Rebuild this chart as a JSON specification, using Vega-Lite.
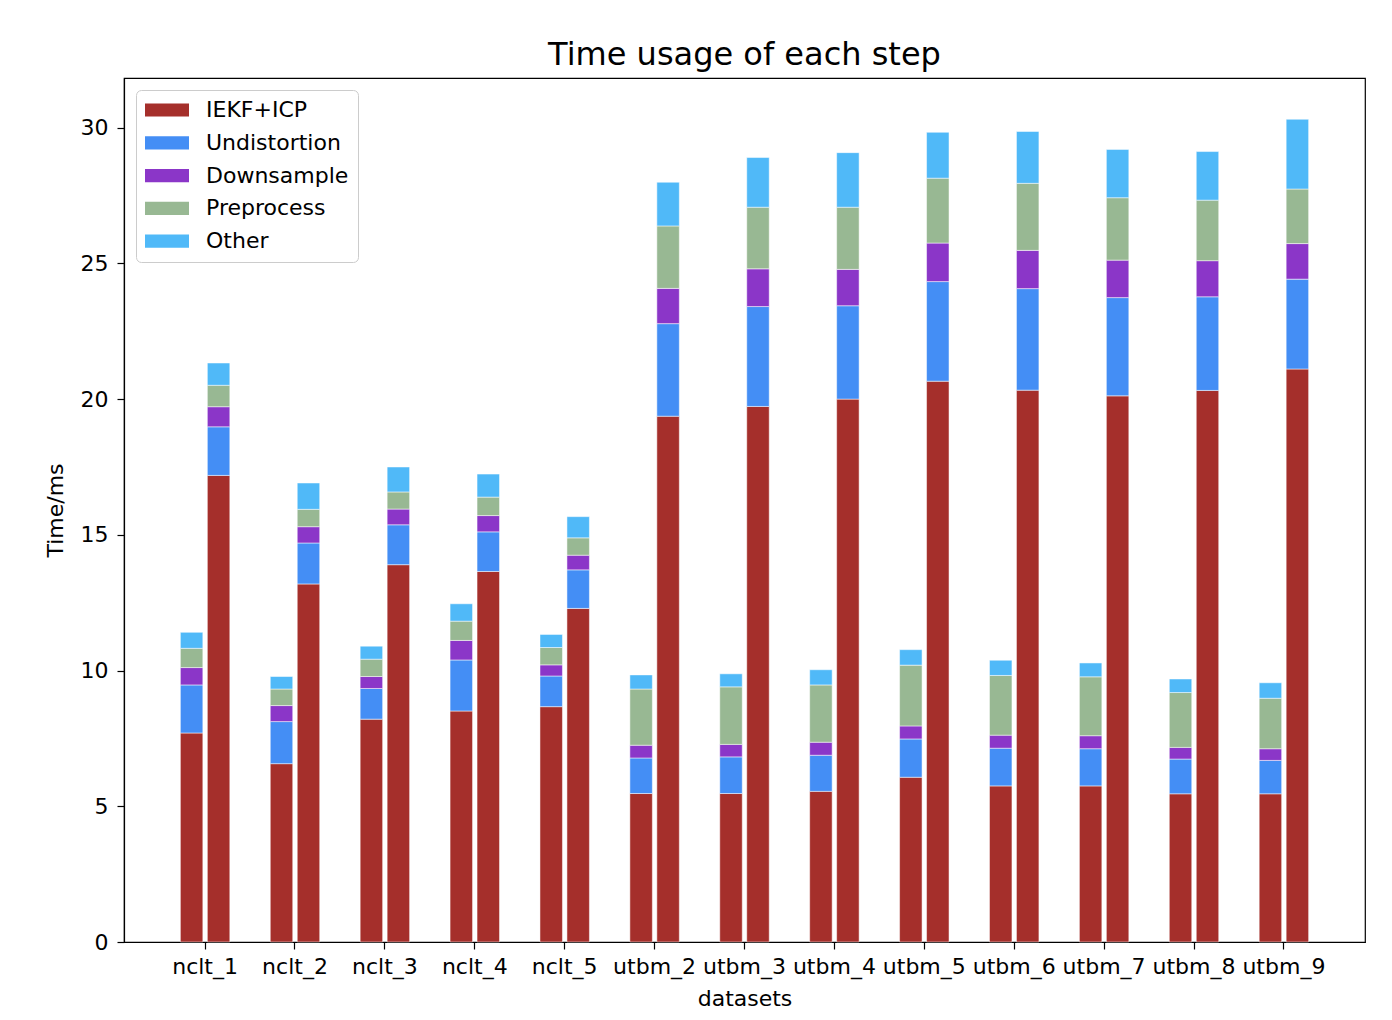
{
  "$schema": "https://vega.github.io/schema/vega-lite/v6.json",
  "width": 1241,
  "height": 864,
  "autosize": {"type": "none"},
  "padding": {"left": 124, "top": 78, "right": 27, "bottom": 78},
  "background": "white",
  "config": {
    "font": "DejaVu Sans",
    "view": {"stroke": "black", "strokeWidth": 1.2},
    "axis": {"domainColor": "black", "domainWidth": 1.2, "tickColor": "black", "tickWidth": 1.2, "tickSize": 7, "labelFontSize": 22, "labelColor": "black", "titleFontSize": 22, "titleFontWeight": "normal", "titleColor": "black", "grid": false}
  },
  "title": {"text": "Time usage of each step", "fontSize": 32, "fontWeight": "normal", "color": "black", "anchor": "middle", "offset": -19, "baseline": "alphabetic"},
  "data": {
    "values": [
      {"dataset": "nclt_1", "bar": "a", "step": "IEKF+ICP", "k": 1, "value": 7.70},
      {"dataset": "nclt_1", "bar": "a", "step": "Undistortion", "k": 2, "value": 1.77},
      {"dataset": "nclt_1", "bar": "a", "step": "Downsample", "k": 3, "value": 0.64},
      {"dataset": "nclt_1", "bar": "a", "step": "Preprocess", "k": 4, "value": 0.71},
      {"dataset": "nclt_1", "bar": "a", "step": "Other", "k": 5, "value": 0.59},
      {"dataset": "nclt_1", "bar": "b", "step": "IEKF+ICP", "k": 1, "value": 17.19},
      {"dataset": "nclt_1", "bar": "b", "step": "Undistortion", "k": 2, "value": 1.79},
      {"dataset": "nclt_1", "bar": "b", "step": "Downsample", "k": 3, "value": 0.74},
      {"dataset": "nclt_1", "bar": "b", "step": "Preprocess", "k": 4, "value": 0.79},
      {"dataset": "nclt_1", "bar": "b", "step": "Other", "k": 5, "value": 0.82},
      {"dataset": "nclt_2", "bar": "a", "step": "IEKF+ICP", "k": 1, "value": 6.57},
      {"dataset": "nclt_2", "bar": "a", "step": "Undistortion", "k": 2, "value": 1.55},
      {"dataset": "nclt_2", "bar": "a", "step": "Downsample", "k": 3, "value": 0.59},
      {"dataset": "nclt_2", "bar": "a", "step": "Preprocess", "k": 4, "value": 0.61},
      {"dataset": "nclt_2", "bar": "a", "step": "Other", "k": 5, "value": 0.46},
      {"dataset": "nclt_2", "bar": "b", "step": "IEKF+ICP", "k": 1, "value": 13.19},
      {"dataset": "nclt_2", "bar": "b", "step": "Undistortion", "k": 2, "value": 1.51},
      {"dataset": "nclt_2", "bar": "b", "step": "Downsample", "k": 3, "value": 0.60},
      {"dataset": "nclt_2", "bar": "b", "step": "Preprocess", "k": 4, "value": 0.64},
      {"dataset": "nclt_2", "bar": "b", "step": "Other", "k": 5, "value": 0.97},
      {"dataset": "nclt_3", "bar": "a", "step": "IEKF+ICP", "k": 1, "value": 8.21},
      {"dataset": "nclt_3", "bar": "a", "step": "Undistortion", "k": 2, "value": 1.13},
      {"dataset": "nclt_3", "bar": "a", "step": "Downsample", "k": 3, "value": 0.44},
      {"dataset": "nclt_3", "bar": "a", "step": "Preprocess", "k": 4, "value": 0.64},
      {"dataset": "nclt_3", "bar": "a", "step": "Other", "k": 5, "value": 0.48},
      {"dataset": "nclt_3", "bar": "b", "step": "IEKF+ICP", "k": 1, "value": 13.90},
      {"dataset": "nclt_3", "bar": "b", "step": "Undistortion", "k": 2, "value": 1.47},
      {"dataset": "nclt_3", "bar": "b", "step": "Downsample", "k": 3, "value": 0.58},
      {"dataset": "nclt_3", "bar": "b", "step": "Preprocess", "k": 4, "value": 0.63},
      {"dataset": "nclt_3", "bar": "b", "step": "Other", "k": 5, "value": 0.92},
      {"dataset": "nclt_4", "bar": "a", "step": "IEKF+ICP", "k": 1, "value": 8.51},
      {"dataset": "nclt_4", "bar": "a", "step": "Undistortion", "k": 2, "value": 1.88},
      {"dataset": "nclt_4", "bar": "a", "step": "Downsample", "k": 3, "value": 0.72},
      {"dataset": "nclt_4", "bar": "a", "step": "Preprocess", "k": 4, "value": 0.71},
      {"dataset": "nclt_4", "bar": "a", "step": "Other", "k": 5, "value": 0.64},
      {"dataset": "nclt_4", "bar": "b", "step": "IEKF+ICP", "k": 1, "value": 13.65},
      {"dataset": "nclt_4", "bar": "b", "step": "Undistortion", "k": 2, "value": 1.46},
      {"dataset": "nclt_4", "bar": "b", "step": "Downsample", "k": 3, "value": 0.60},
      {"dataset": "nclt_4", "bar": "b", "step": "Preprocess", "k": 4, "value": 0.68},
      {"dataset": "nclt_4", "bar": "b", "step": "Other", "k": 5, "value": 0.85},
      {"dataset": "nclt_5", "bar": "a", "step": "IEKF+ICP", "k": 1, "value": 8.67},
      {"dataset": "nclt_5", "bar": "a", "step": "Undistortion", "k": 2, "value": 1.13},
      {"dataset": "nclt_5", "bar": "a", "step": "Downsample", "k": 3, "value": 0.41},
      {"dataset": "nclt_5", "bar": "a", "step": "Preprocess", "k": 4, "value": 0.64},
      {"dataset": "nclt_5", "bar": "a", "step": "Other", "k": 5, "value": 0.48},
      {"dataset": "nclt_5", "bar": "b", "step": "IEKF+ICP", "k": 1, "value": 12.29},
      {"dataset": "nclt_5", "bar": "b", "step": "Undistortion", "k": 2, "value": 1.42},
      {"dataset": "nclt_5", "bar": "b", "step": "Downsample", "k": 3, "value": 0.54},
      {"dataset": "nclt_5", "bar": "b", "step": "Preprocess", "k": 4, "value": 0.64},
      {"dataset": "nclt_5", "bar": "b", "step": "Other", "k": 5, "value": 0.78},
      {"dataset": "utbm_2", "bar": "a", "step": "IEKF+ICP", "k": 1, "value": 5.47},
      {"dataset": "utbm_2", "bar": "a", "step": "Undistortion", "k": 2, "value": 1.31},
      {"dataset": "utbm_2", "bar": "a", "step": "Downsample", "k": 3, "value": 0.47},
      {"dataset": "utbm_2", "bar": "a", "step": "Preprocess", "k": 4, "value": 2.07},
      {"dataset": "utbm_2", "bar": "a", "step": "Other", "k": 5, "value": 0.52},
      {"dataset": "utbm_2", "bar": "b", "step": "IEKF+ICP", "k": 1, "value": 19.37},
      {"dataset": "utbm_2", "bar": "b", "step": "Undistortion", "k": 2, "value": 3.41},
      {"dataset": "utbm_2", "bar": "b", "step": "Downsample", "k": 3, "value": 1.30},
      {"dataset": "utbm_2", "bar": "b", "step": "Preprocess", "k": 4, "value": 2.30},
      {"dataset": "utbm_2", "bar": "b", "step": "Other", "k": 5, "value": 1.61},
      {"dataset": "utbm_3", "bar": "a", "step": "IEKF+ICP", "k": 1, "value": 5.47},
      {"dataset": "utbm_3", "bar": "a", "step": "Undistortion", "k": 2, "value": 1.35},
      {"dataset": "utbm_3", "bar": "a", "step": "Downsample", "k": 3, "value": 0.46},
      {"dataset": "utbm_3", "bar": "a", "step": "Preprocess", "k": 4, "value": 2.12},
      {"dataset": "utbm_3", "bar": "a", "step": "Other", "k": 5, "value": 0.48},
      {"dataset": "utbm_3", "bar": "b", "step": "IEKF+ICP", "k": 1, "value": 19.73},
      {"dataset": "utbm_3", "bar": "b", "step": "Undistortion", "k": 2, "value": 3.68},
      {"dataset": "utbm_3", "bar": "b", "step": "Downsample", "k": 3, "value": 1.39},
      {"dataset": "utbm_3", "bar": "b", "step": "Preprocess", "k": 4, "value": 2.27},
      {"dataset": "utbm_3", "bar": "b", "step": "Other", "k": 5, "value": 1.83},
      {"dataset": "utbm_4", "bar": "a", "step": "IEKF+ICP", "k": 1, "value": 5.55},
      {"dataset": "utbm_4", "bar": "a", "step": "Undistortion", "k": 2, "value": 1.33},
      {"dataset": "utbm_4", "bar": "a", "step": "Downsample", "k": 3, "value": 0.48},
      {"dataset": "utbm_4", "bar": "a", "step": "Preprocess", "k": 4, "value": 2.11},
      {"dataset": "utbm_4", "bar": "a", "step": "Other", "k": 5, "value": 0.56},
      {"dataset": "utbm_4", "bar": "b", "step": "IEKF+ICP", "k": 1, "value": 20.00},
      {"dataset": "utbm_4", "bar": "b", "step": "Undistortion", "k": 2, "value": 3.44},
      {"dataset": "utbm_4", "bar": "b", "step": "Downsample", "k": 3, "value": 1.34},
      {"dataset": "utbm_4", "bar": "b", "step": "Preprocess", "k": 4, "value": 2.29},
      {"dataset": "utbm_4", "bar": "b", "step": "Other", "k": 5, "value": 2.01},
      {"dataset": "utbm_5", "bar": "a", "step": "IEKF+ICP", "k": 1, "value": 6.07},
      {"dataset": "utbm_5", "bar": "a", "step": "Undistortion", "k": 2, "value": 1.41},
      {"dataset": "utbm_5", "bar": "a", "step": "Downsample", "k": 3, "value": 0.48},
      {"dataset": "utbm_5", "bar": "a", "step": "Preprocess", "k": 4, "value": 2.24},
      {"dataset": "utbm_5", "bar": "a", "step": "Other", "k": 5, "value": 0.57},
      {"dataset": "utbm_5", "bar": "b", "step": "IEKF+ICP", "k": 1, "value": 20.66},
      {"dataset": "utbm_5", "bar": "b", "step": "Undistortion", "k": 2, "value": 3.67},
      {"dataset": "utbm_5", "bar": "b", "step": "Downsample", "k": 3, "value": 1.42},
      {"dataset": "utbm_5", "bar": "b", "step": "Preprocess", "k": 4, "value": 2.39},
      {"dataset": "utbm_5", "bar": "b", "step": "Other", "k": 5, "value": 1.69},
      {"dataset": "utbm_6", "bar": "a", "step": "IEKF+ICP", "k": 1, "value": 5.75},
      {"dataset": "utbm_6", "bar": "a", "step": "Undistortion", "k": 2, "value": 1.39},
      {"dataset": "utbm_6", "bar": "a", "step": "Downsample", "k": 3, "value": 0.48},
      {"dataset": "utbm_6", "bar": "a", "step": "Preprocess", "k": 4, "value": 2.20},
      {"dataset": "utbm_6", "bar": "a", "step": "Other", "k": 5, "value": 0.56},
      {"dataset": "utbm_6", "bar": "b", "step": "IEKF+ICP", "k": 1, "value": 20.33},
      {"dataset": "utbm_6", "bar": "b", "step": "Undistortion", "k": 2, "value": 3.74},
      {"dataset": "utbm_6", "bar": "b", "step": "Downsample", "k": 3, "value": 1.41},
      {"dataset": "utbm_6", "bar": "b", "step": "Preprocess", "k": 4, "value": 2.47},
      {"dataset": "utbm_6", "bar": "b", "step": "Other", "k": 5, "value": 1.91},
      {"dataset": "utbm_7", "bar": "a", "step": "IEKF+ICP", "k": 1, "value": 5.75},
      {"dataset": "utbm_7", "bar": "a", "step": "Undistortion", "k": 2, "value": 1.37},
      {"dataset": "utbm_7", "bar": "a", "step": "Downsample", "k": 3, "value": 0.48},
      {"dataset": "utbm_7", "bar": "a", "step": "Preprocess", "k": 4, "value": 2.17},
      {"dataset": "utbm_7", "bar": "a", "step": "Other", "k": 5, "value": 0.51},
      {"dataset": "utbm_7", "bar": "b", "step": "IEKF+ICP", "k": 1, "value": 20.12},
      {"dataset": "utbm_7", "bar": "b", "step": "Undistortion", "k": 2, "value": 3.62},
      {"dataset": "utbm_7", "bar": "b", "step": "Downsample", "k": 3, "value": 1.38},
      {"dataset": "utbm_7", "bar": "b", "step": "Preprocess", "k": 4, "value": 2.30},
      {"dataset": "utbm_7", "bar": "b", "step": "Other", "k": 5, "value": 1.78},
      {"dataset": "utbm_8", "bar": "a", "step": "IEKF+ICP", "k": 1, "value": 5.46},
      {"dataset": "utbm_8", "bar": "a", "step": "Undistortion", "k": 2, "value": 1.28},
      {"dataset": "utbm_8", "bar": "a", "step": "Downsample", "k": 3, "value": 0.43},
      {"dataset": "utbm_8", "bar": "a", "step": "Preprocess", "k": 4, "value": 2.02},
      {"dataset": "utbm_8", "bar": "a", "step": "Other", "k": 5, "value": 0.50},
      {"dataset": "utbm_8", "bar": "b", "step": "IEKF+ICP", "k": 1, "value": 20.32},
      {"dataset": "utbm_8", "bar": "b", "step": "Undistortion", "k": 2, "value": 3.45},
      {"dataset": "utbm_8", "bar": "b", "step": "Downsample", "k": 3, "value": 1.33},
      {"dataset": "utbm_8", "bar": "b", "step": "Preprocess", "k": 4, "value": 2.23},
      {"dataset": "utbm_8", "bar": "b", "step": "Other", "k": 5, "value": 1.79},
      {"dataset": "utbm_9", "bar": "a", "step": "IEKF+ICP", "k": 1, "value": 5.46},
      {"dataset": "utbm_9", "bar": "a", "step": "Undistortion", "k": 2, "value": 1.23},
      {"dataset": "utbm_9", "bar": "a", "step": "Downsample", "k": 3, "value": 0.43},
      {"dataset": "utbm_9", "bar": "a", "step": "Preprocess", "k": 4, "value": 1.86},
      {"dataset": "utbm_9", "bar": "a", "step": "Other", "k": 5, "value": 0.57},
      {"dataset": "utbm_9", "bar": "b", "step": "IEKF+ICP", "k": 1, "value": 21.11},
      {"dataset": "utbm_9", "bar": "b", "step": "Undistortion", "k": 2, "value": 3.31},
      {"dataset": "utbm_9", "bar": "b", "step": "Downsample", "k": 3, "value": 1.31},
      {"dataset": "utbm_9", "bar": "b", "step": "Preprocess", "k": 4, "value": 2.01},
      {"dataset": "utbm_9", "bar": "b", "step": "Other", "k": 5, "value": 2.57}
    ]
  },
  "mark": {"type": "bar", "stroke": "white", "strokeWidth": 0.5},
  "encoding": {
    "x": {
      "field": "dataset", "type": "nominal", "sort": null, "title": "datasets",
      "scale": {"paddingInner": 0.45, "paddingOuter": 0.627},
      "axis": {"labelAngle": 0, "labelPadding": 7, "titlePadding": 11}
    },
    "xOffset": {"field": "bar", "type": "nominal", "scale": {"paddingInner": 0.1667, "paddingOuter": 0}},
    "y": {
      "field": "value", "type": "quantitative", "stack": "zero", "title": "Time/ms",
      "scale": {"domain": [0, 31.83], "nice": false},
      "axis": {"values": [0, 5, 10, 15, 20, 25, 30], "labelPadding": 9, "titlePadding": 13}
    },
    "color": {
      "field": "step", "type": "nominal",
      "scale": {"domain": ["IEKF+ICP", "Undistortion", "Downsample", "Preprocess", "Other"], "range": ["#A52F2B", "#448EF5", "#8B36C8", "#98B893", "#50B9F8"]},
      "legend": {"title": null, "orient": "none", "legendX": 12, "legendY": 12, "direction": "vertical", "fillColor": "white", "strokeColor": "#cccccc", "cornerRadius": 5, "padding": 9, "labelFontSize": 22, "labelColor": "black", "symbolType": "M-1,-0.6H3V0.6H-1Z", "symbolSize": 484, "symbolStrokeWidth": 0, "symbolOpacity": 1, "labelOffset": 39, "rowPadding": 10.8}
    },
    "order": {"field": "k", "type": "quantitative", "sort": "ascending"}
  }
}
